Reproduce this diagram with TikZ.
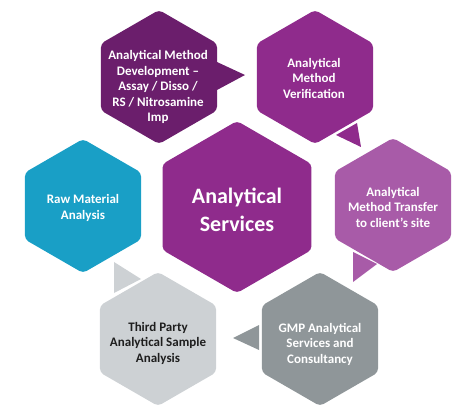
\documentclass[tikz,border=0pt]{standalone}
\usepackage{fontspec}
\setmainfont{Carlito}
\usetikzlibrary{shapes.geometric}

\definecolor{plumdark}{HTML}{6B1E6C}
\definecolor{plummid}{HTML}{8F2B8C}
\definecolor{plumlight}{HTML}{A85BA8}
\definecolor{tealraw}{HTML}{199FC6}
\definecolor{greygmp}{HTML}{8F9699}
\definecolor{greythird}{HTML}{CDD1D4}
\definecolor{inkdark}{HTML}{1E1E1E}

\begin{document}
\begin{tikzpicture}
  [x=1pt,y=-1pt,
  hexa/.style={regular polygon,regular polygon sides=6,shape border rotate=30,
    minimum size=134pt,inner sep=0pt,rounded corners=4pt},
  hextext/.style={align=center,text=white,inner sep=0pt,
    font=\fontsize{13}{15.5}\selectfont\bfseries},
  tail/.style={draw=none}]

\useasboundingbox (0,0) rectangle (474,414);

% outer ring
\node[hexa,fill=plumdark]  (dev)      at (159,77)  {};
\node[hexa,fill=plummid]   (verify)   at (315,77)  {};
\node[hexa,fill=plumlight] (transfer) at (393,205) {};
\node[hexa,fill=greygmp]   (gmp)      at (320,339) {};
\node[hexa,fill=greythird] (third)    at (158,339) {};
\node[hexa,fill=tealraw]   (raw)      at (83,206)  {};

% centre
\node[hexa,fill=plummid,minimum size=172pt] (core) at (237,207) {};

% pointers
\fill[plumdark]  (217,62)  -- (245,75)  -- (217,90)  -- cycle;
\fill[plummid]   (336,135) -- (357,123) -- (361,147) -- cycle;
\fill[plumlight] (353,252) -- (377,264) -- (353,282) -- cycle;
\fill[greygmp]   (233,338) -- (259,325) -- (259,350) -- cycle;
\fill[greythird] (114,262) -- (141,279) -- (114,293) -- cycle;

% labels
\node[hextext] (devtxt) at (158,87)
  {Analytical Method\\Development –\\Assay / Disso /\\RS / Nitrosamine\\Imp};
\node[hextext] (verifytxt) at (314,78) {Analytical\\Method\\Verification};
\node[hextext] (transfertxt) at (393,207)
  {Analytical\\Method Transfer\\to client’s site};
\node[hextext] (gmptxt) at (320,344) {GMP Analytical\\Services and\\Consultancy};
\node[hextext,text=inkdark] (thirdtxt) at (158,343)
  {Third Party\\Analytical Sample\\Analysis};
\node[hextext] (rawtxt) at (83,208) {Raw Material\\Analysis};
\node[hextext,font=\fontsize{22}{28}\selectfont\bfseries] (coretxt) at (237,210)
  {Analytical\\Services};
\end{tikzpicture}
\end{document}
